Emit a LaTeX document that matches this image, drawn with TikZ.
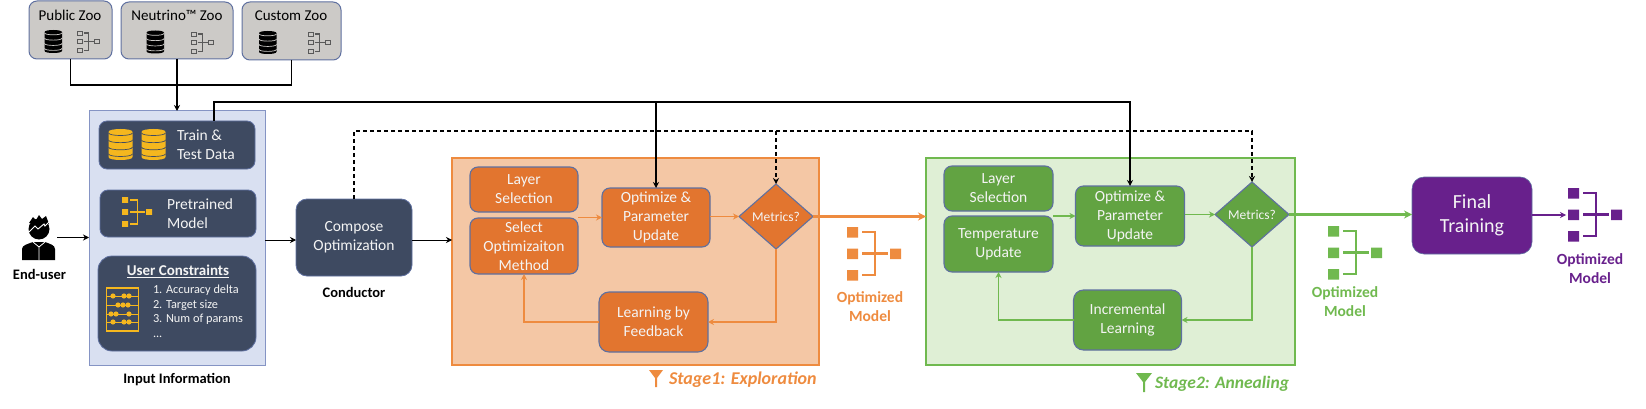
\documentclass[tikz,border=0pt]{standalone}
\usepackage{fontspec}
\setmainfont{Carlito}
\usetikzlibrary{arrows.meta,shapes.geometric,calc}
\definecolor{navy}{HTML}{3E4A61}
\definecolor{edgeblue}{HTML}{5F70A0}
\definecolor{zoofill}{HTML}{CCCAC7}
\definecolor{inputfill}{HTML}{D9E0F1}
\definecolor{inputedge}{HTML}{8594C4}
\definecolor{gold}{HTML}{F5B71E}
\definecolor{orA}{HTML}{E2752F}
\definecolor{orL}{HTML}{F4C7A5}
\definecolor{orE}{HTML}{EE8B3F}
\definecolor{grA}{HTML}{62A342}
\definecolor{grL}{HTML}{DFEFD5}
\definecolor{grE}{HTML}{70B94F}
\definecolor{pur}{HTML}{68208C}
\definecolor{softwhite}{HTML}{F4F4F4}
\tikzset{
  fs/.style={font=\fontsize{#1}{19}\selectfont},
  flat/.style={inner sep=0pt,outer sep=0pt},
  zoo/.style={flat,draw=edgeblue,line width=1pt,fill=zoofill,rounded corners=8pt},
  darkbox/.style={flat,draw=edgeblue,line width=.8pt,fill=navy,rounded corners=8pt,text=softwhite,align=center,fs=15.5},
  orbox/.style={flat,draw=edgeblue,line width=1.1pt,fill=orA,rounded corners=8pt,text=softwhite,align=center,fs=15.5},
  grbox/.style={flat,draw=edgeblue,line width=1.1pt,fill=grA,rounded corners=8pt,text=softwhite,align=center,fs=15.5},
  dia/.style={flat,diamond,aspect=1.14,draw=edgeblue,line width=1.1pt,text=softwhite,fs=13.5},
  lbl/.style={flat,align=center,fs=15.5},
  tip/.style={-{Stealth[length=6pt,width=6pt]}},
  bigtip/.style={-{Stealth[length=8pt,width=8pt]}},
  blk/.style={tip,draw=black,line width=1.1pt},
  dsh/.style={tip,draw=black,line width=1.1pt,dash pattern=on 4pt off 3pt},
}
% x, y (top-left), scale, colour, filled(1)/outlined(0)
\newcommand{\treeicon}[5]{%
\begin{scope}[shift={(#1,#2)},scale=#3]
  \ifnum#5=1
    \fill[#4] (0,0) rectangle (11,10.5) (0,21.5) rectangle (11,32) (0,43) rectangle (11,53.5) (43,21.5) rectangle (54,32);
  \else
    \draw[#4,line width=.6pt,fill=zoofill] (0,0) rectangle (11,10.5) (0,21.5) rectangle (11,32) (0,43) rectangle (11,53.5) (43,21.5) rectangle (54,32);
  \fi
  \draw[#4,line width=#3*2.2pt+.25pt] (15,5) -- (28,5) -- (28,48) -- (15,48) (15,26.5) -- (41,26.5);
\end{scope}}
% x, y, width, height, colour, gap colour
\newcommand{\dbicon}[6]{%
\begin{scope}[shift={(#1,#2)},xscale=#3/10,yscale=#4/13]
  \fill[#5] (0,1.2) -- (0,11.8) .. controls (0,13.4) and (10,13.4) .. (10,11.8) -- (10,1.2) .. controls (10,-.4) and (0,-.4) .. (0,1.2) -- cycle;
  \foreach \yy in {1.6,4.6,7.6,10.4}
    \draw[#6,line width=.7pt] (0,\yy) .. controls (0,\yy+1.5) and (10,\yy+1.5) .. (10,\yy);
\end{scope}}
\begin{document}
\begin{tikzpicture}[x=1pt,y=-1pt]
\path[use as bounding box] (0,0) rectangle (1646,409);

% containers
\node[flat,draw=inputedge,line width=1pt,fill=inputfill,minimum width=176pt,minimum height=254pt] (input) at (177,238) {};
\node[flat,draw=orE,line width=1.4pt,fill=orL,minimum width=367pt,minimum height=207pt] (stageA) at (635.5,261.5) {};
\node[flat,draw=grE,line width=1.4pt,fill=grL,minimum width=369pt,minimum height=207pt] (stageB) at (1110.5,261.5) {};

% zoos
\node[zoo,minimum width=83pt,minimum height=58pt] (zooA) at (70.5,30) {};
\node[zoo,minimum width=112pt,minimum height=57pt] (zooB) at (177,30.5) {};
\node[zoo,minimum width=99pt,minimum height=58pt] (zooC) at (291.5,31) {};
\node[flat,fs=15] (zooAt) at (70,15) {Public Zoo};
\node[flat,fs=15] (zooBt) at (177,15.5) {Neutrino™ Zoo};
\node[flat,fs=15] (zooCt) at (291,16) {Custom Zoo};
\dbicon{44.5}{30}{17.5}{23}{black}{zoofill}
\dbicon{146.5}{30.5}{17.5}{23}{black}{zoofill}
\dbicon{259}{31}{17.5}{23}{black}{zoofill}
\treeicon{77.5}{31}{.4}{black!65}{0}
\treeicon{191.5}{32}{.4}{black!65}{0}
\treeicon{308.5}{32}{.4}{black!65}{0}

% input boxes
\node[darkbox,minimum width=156pt,minimum height=48pt] (train) at (177,145) {};
\node[darkbox,minimum width=156pt,minimum height=47pt] (pre) at (178,213.5) {};
\node[darkbox,rounded corners=14pt,minimum width=158pt,minimum height=95pt] (user) at (177,303.5) {};
\dbicon{108.5}{129}{24}{31}{gold}{navy}
\dbicon{141.5}{129}{24}{31}{gold}{navy}
\node[lbl,anchor=west,align=left,text=softwhite] (traint) at (177,145) {Train \&\\Test Data};
\treeicon{122}{197}{.56}{gold}{1}
\node[lbl,anchor=west,align=left,text=softwhite] (pret) at (167,213.5) {Pretrained\\Model};
\node[flat,text=softwhite,fs=15] (usert) at (178,271) {\textbf{\underline{User Constraints}}};
\node[flat,anchor=north west,align=left,text=softwhite,font=\fontsize{12.3}{14.6}\selectfont] (userl) at (153,285) {1. Accuracy delta\\2. Target size\\3. Num of params\\...};
% abacus
\begin{scope}
  \draw[gold,line width=1.8pt] (106.5,288) rectangle (138.5,331);
  \foreach \yy/\aa/\bb/\cc in {296/113/124/129,305/118/123/128,314/111/116/129,322/113/124/129}{
    \draw[gold,line width=1pt] (106.5,\yy) -- (138.5,\yy);
    \foreach \xx in {\aa,\bb,\cc} \fill[gold] (\xx,\yy) circle[radius=2.6];
  }
\end{scope}

% end-user
\fill[black] (39,229) circle[radius=10.5];
\fill[black] (29,223) -- (33,217) -- (36,220) -- (39,215) -- (42,219) -- (46,216) -- (49,224) -- cycle;
\draw[white,line width=.9pt] (29,232) -- (35,226) -- (38,229) -- (44,224) -- (45,226) -- (49,222);
\fill[black] (22,260) -- (22,249) .. controls (22,245) and (28,244) .. (33,242) -- (45,242) .. controls (50,244) and (55,245) .. (55,249) -- (55,260) -- cycle;
\draw[white,line width=.8pt] (39,246) -- (39,260) (33,242) -- (39,247) -- (45,242);
\node[flat,fs=14.5] (euser) at (39.5,274) {\textbf{End-user}};
\node[flat,fs=14.5] (inlab) at (177,379.5) {\textbf{Input Information}};

% conductor
\node[darkbox,rounded corners=11pt,minimum width=116pt,minimum height=77pt] (comp) at (354,237.5) {Compose\\Optimization};
\node[flat,fs=14.5] (condl) at (354,292) {\textbf{Conductor}};

% stage 1
\node[orbox,minimum width=108pt,minimum height=45pt] (layA) at (524,189.5) {Layer\\Selection};
\node[orbox,minimum width=108pt,minimum height=56pt] (selA) at (524,246) {Select\\Optimizaiton\\Method};
\node[orbox,minimum width=108pt,minimum height=59pt] (optA) at (656,217.5) {Optimize \&\\Parameter\\Update};
\node[dia,fill=orA,minimum width=74pt,minimum height=65pt] (diaA) at (776,216.5) {Metrics?};
\node[orbox,rounded corners=10pt,minimum width=109pt,minimum height=60pt] (learnA) at (653.5,322) {Learning by\\Feedback};

% stage 2
\node[grbox,minimum width=109pt,minimum height=45pt] (layB) at (998.5,188.5) {Layer\\Selection};
\node[grbox,minimum width=109pt,minimum height=56pt] (tmpB) at (998.5,244) {Temperature\\Update};
\node[grbox,minimum width=109pt,minimum height=60pt] (optB) at (1130,216) {Optimize \&\\Parameter\\Update};
\node[dia,fill=grA,minimum width=74pt,minimum height=65pt] (diaB) at (1252,214.5) {Metrics?};
\node[grbox,rounded corners=10pt,minimum width=108pt,minimum height=60pt] (learnB) at (1127.5,320) {Incremental\\Learning};

% final
\node[flat,fill=pur,draw=edgeblue,line width=.6pt,rounded corners=12pt,text=softwhite,align=center,minimum width=120pt,minimum height=77pt,font=\fontsize{20}{24}\selectfont] (final) at (1472,215.5) {Final\\Training};

% icons and outputs
\treeicon{847}{227}{1}{orE}{1}
\node[lbl,text=orE] (outA) at (870,306.5) {\textbf{Optimized}\\\textbf{Model}};
\treeicon{1328}{226}{1}{grE}{1}
\node[lbl,text=grE] (outB) at (1345,301.5) {\textbf{Optimized}\\\textbf{Model}};
\treeicon{1568}{188}{1}{pur}{1}
\node[lbl,text=pur] (outC) at (1590,268.5) {\textbf{Optimized}\\\textbf{Model}};

% stage labels
\fill[orE] (649,370) -- (663,370) -- (657,378) -- (657,387) -- (655,387) -- (655,378) -- cycle;
\node[flat,anchor=west,text=orE,fs=18] (stAl) at (669,380) {\textbf{\textit{Stage1: Exploration}}};
\fill[grE] (1136,373) -- (1152,373) -- (1145,382) -- (1145,392) -- (1143,392) -- (1143,382) -- cycle;
\node[flat,anchor=west,text=grE,fs=17.5] (stBl) at (1155,383.5) {\textbf{\textit{Stage2: Annealing}}};

% bus coordinates
\coordinate (bus) at (214,102);
\coordinate (dashy) at (354,131);
\coordinate (zooy) at (177,85);

% connectors
\draw[draw=black,line width=1.1pt] (zooA.south) |- (zooy);
\draw[draw=black,line width=1.1pt] (zooC.south) |- (zooy);
\draw[blk] (zooB.south) -- (input.north);
\coordinate (euserout) at (57,237.5);
\draw[blk,line width=.9pt] (euserout) -- (euserout -| input.west);
\draw[blk,line width=.9pt] ($(input.east |- comp.west)+(0,2.5)$) -- ($(comp.west)+(0,2.5)$);
\draw[blk,line width=.9pt] ($(comp.east)+(0,2.5)$) -- ($(stageA.west |- comp.east)+(0,2.5)$);
\draw[draw=black,line width=1.1pt] (train.north -| bus) -- (bus) -| ($(optB.north)+(0,-10)$);
\draw[blk] ($(optB.north)+(0,-10)$) -- (optB.north);
\draw[blk] (optA.north |- bus) -- (optA.north);
\draw[dsh] (comp.north) -- (dashy) -| (diaB.north);
\draw[dsh] (diaA.north |- dashy) -- (diaA.north);
% stage 1 flow
\draw[tip,orE,line width=1.1pt] (optA.west -| selA.east) -- (optA.west);
\draw[tip,orE,line width=1.1pt] (optA.east |- diaA.west) -- (diaA.west);
\draw[bigtip,orE,line width=2.4pt] (diaA.east) -- (stageB.west |- diaA.east);
\draw[tip,orE,line width=1.1pt] (diaA.south) |- (learnA.east);
\draw[tip,orE,line width=1.1pt] (learnA.west) -| (selA.south);
% stage 2 flow
\draw[tip,grE,line width=1.1pt] (optB.west -| tmpB.east) -- (optB.west);
\draw[tip,grE,line width=1.1pt] (optB.east |- diaB.west) -- (diaB.west);
\draw[bigtip,grE,line width=2.4pt] (diaB.east) -- (final.west |- diaB.east);
\draw[tip,grE,line width=1.1pt] (diaB.south) |- (learnB.east);
\draw[tip,grE,line width=1.1pt] (learnB.west) -| (tmpB.south);
\coordinate (finalout) at (1566,215);
\draw[tip,pur,line width=1.2pt] (final.east |- finalout) -- (finalout);
\end{tikzpicture}
\end{document}
